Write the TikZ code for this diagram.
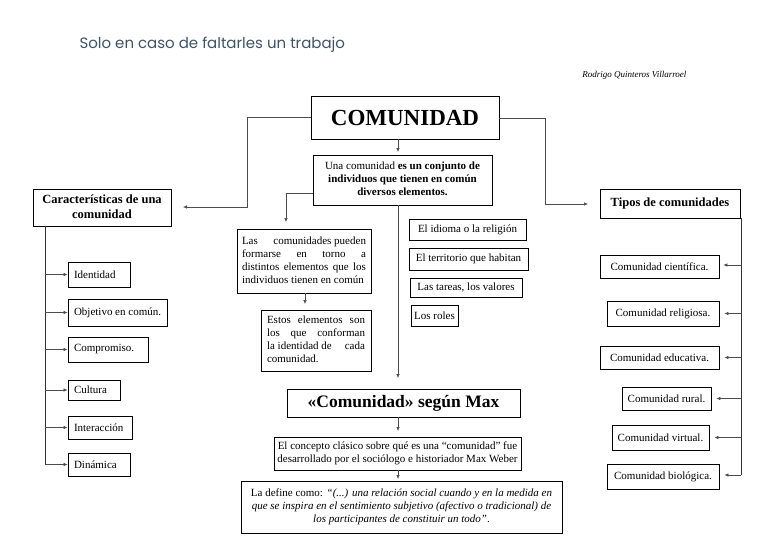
\documentclass[tikz,border=0pt]{standalone}
\usepackage{fontspec}
\setmainfont{Liberation Serif}
\newfontfamily\hdr{Poppins}
\usetikzlibrary{arrows.meta}
\definecolor{hdrc}{RGB}{62,84,104}
\begin{document}
\begin{tikzpicture}[x=1pt,y=-1pt,
  bx/.style={draw,line width=0.8pt,inner sep=0pt,font=\fontsize{11}{13}\selectfont},
  cn/.style={draw=black!70,line width=0.6pt,-{Latex[length=4pt,width=3.5pt]}},
  ln/.style={draw=black!80,line width=0.8pt}]
\useasboundingbox[fill=white] (0,0) rectangle (768,544);
\node[anchor=west,text=hdrc,font=\hdr\fontsize{15}{18}\selectfont] (hdr) at (76,45) {Solo en caso de faltarles un trabajo};
\node[anchor=east,font=\itshape\fontsize{9}{10}\selectfont] (auth) at (690,75) {Rodrigo Quinteros Villarroel};
\newcommand\bxat[6]{\node[bx,minimum width=#4-#2,minimum height=#5-#3] (#1) at ({(#2+#4)/2},{(#3+#5)/2}) {#6};}
\newcommand\lbx[6]{\bxat{#1}{#2}{#3}{#4}{#5}{\makebox[\dimexpr #4pt-#2pt\relax][l]{\hspace{6pt}#6}}}
\newcommand\jl[2]{\makebox[#1][s]{#2}}
\bxat{com}{311}{96}{499}{139}{\fontsize{23}{26}\selectfont\bfseries COMUNIDAD}
\bxat{una}{313}{155}{492}{205}{\begin{tabular}{@{}c@{}}Una comunidad \textbf{es un conjunto de}\\\textbf{individuos que tienen en común}\\\textbf{diversos elementos.}\end{tabular}}
\bxat{car}{33}{189}{171}{226}{\fontsize{12.5}{15}\selectfont\bfseries\begin{tabular}{@{}c@{}}Características de una\\comunidad\end{tabular}}
\bxat{tip}{600}{189}{740}{218}{\fontsize{12.5}{15}\selectfont\bfseries Tipos de comunidades}
\bxat{las}{237}{229}{371}{293}{\begin{tabular}{@{}l@{}}\jl{124pt}{Las\hfill comunidades pueden}\\\jl{124pt}{formarse en torno a}\\\jl{124pt}{distintos elementos que los}\\individuos tienen en común\end{tabular}}
\bxat{est}{261}{310}{371}{371}{\begin{tabular}{@{}l@{}}\jl{98pt}{Estos elementos son}\\\jl{98pt}{los que conforman}\\\jl{98pt}{la identidad de\hfill cada}\\comunidad.\end{tabular}}
\bxat{idi}{409}{219}{526}{240}{El idioma o la religión}
\bxat{ter}{409}{248}{528}{270}{El territorio que habitan}
\bxat{tar}{410}{278}{522}{297}{Las tareas, los valores}
\bxat{rol}{411}{305}{458}{326}{Los roles}
\bxat{max}{287}{389}{520}{417}{\fontsize{17.5}{20}\selectfont\bfseries «Comunidad» según Max}
\bxat{con}{274}{437}{521}{470}{\begin{tabular}{@{}c@{}}El concepto clásico sobre qué es una “comunidad” fue\\desarrollado por el sociólogo e historiador Max Weber\end{tabular}}
\bxat{def}{241}{481}{562}{533}{\begin{tabular}{@{}c@{}}La define como: \textit{“(...) una relación social cuando y en la medida en}\\\textit{que se inspira en el sentimiento subjetivo (afectivo o tradicional) de}\\\textit{los participantes de constituir un todo”}.\end{tabular}}
% left list
\lbx{l1}{68}{262}{130}{287}{Identidad}
\lbx{l2}{68}{299}{167}{326}{Objetivo en común.}
\lbx{l3}{68}{337}{148}{362}{Compromiso.}
\lbx{l4}{68}{380}{120}{400}{Cultura}
\lbx{l5}{68}{416}{132}{439}{Interacción}
\lbx{l6}{68}{453}{130}{476}{Dinámica}
% right list
\bxat{r1}{600}{255}{719}{278}{Comunidad científica.}
\bxat{r2}{607}{301}{719}{326}{Comunidad religiosa.}
\bxat{r3}{600}{346}{719}{369}{Comunidad educativa.}
\bxat{r4}{622}{387}{711}{410}{Comunidad rural.}
\bxat{r5}{612}{425}{709}{450}{Comunidad virtual.}
\bxat{r6}{607}{464}{719}{489}{Comunidad biológica.}
% connectors
\coordinate (cL) at (183,207); \coordinate (tL) at (588,204);
\draw[cn] (com.west|-0,117) -| (247,207) -- (cL);
\draw[cn] (com.east|-0,118) -| (545,204) -- (tL);
\draw[cn] (398,139) -- (398,152);
\draw[cn] (una.west|-0,193) -| (286,222);
\draw[cn] (305,293) -- (305,304);
\draw[cn] (398,205) -- (398,378);
\draw[cn] (398,417) -- (398,431);
\draw[cn] (398,470) -- (398,479);
\draw[ln] (45,226) -- (45,465);
\foreach \b in {l1,l2,l3,l4,l5,l6} \draw[cn] (45,0|-\b.west) -- (\b.west);
\draw[ln] (741,218) -- (741,475);
\draw[cn] (741,265) -- ([xshift=4pt]r1.east|-0,265);
\foreach \b in {r2,r3,r4,r5} \draw[cn] (741,0|-\b.east) -- ([xshift=5pt]\b.east);
\draw[cn] (741,475) -- ([xshift=5pt]r6.east|-0,475);
\end{tikzpicture}
\end{document}
